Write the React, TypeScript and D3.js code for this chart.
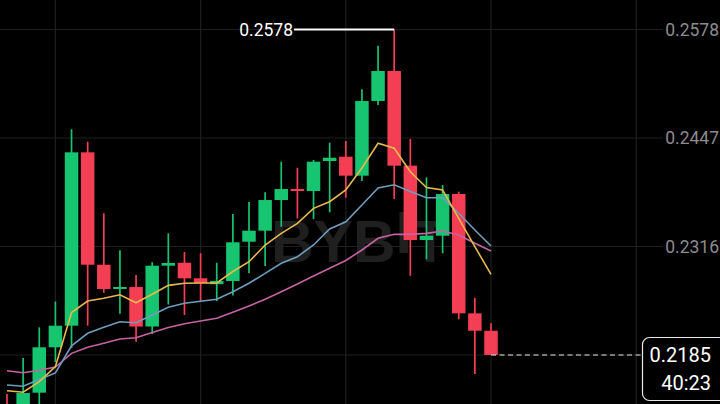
import React from "react";
import * as d3 from "d3";

const W = 720;
const H = 404;

// OHLC per candle (index 0..30)
const opens = [0.2121, 0.21125, 0.21395, 0.21943, 0.22204, 0.24297, 0.2294, 0.22647, 0.22671, 0.22194, 0.22928, 0.22964, 0.22776, 0.22705, 0.22743, 0.23218, 0.23351, 0.23721, 0.23854, 0.2383, 0.24192, 0.24244, 0.24015, 0.24917, 0.25279, 0.24136, 0.23238, 0.2329, 0.23794, 0.22353, 0.22143];
const highs = [0.21379, 0.21814, 0.22184, 0.22496, 0.24575, 0.24425, 0.23561, 0.23114, 0.22816, 0.2297, 0.23319, 0.23094, 0.23079, 0.22963, 0.23552, 0.23697, 0.23814, 0.24184, 0.24111, 0.24204, 0.24413, 0.24434, 0.25058, 0.25584, 0.2578, 0.24458, 0.23995, 0.23903, 0.23822, 0.22542, 0.22233];
const lows = [0.2092, 0.21065, 0.21234, 0.21765, 0.21934, 0.22204, 0.22601, 0.22349, 0.2201, 0.22103, 0.2246, 0.22333, 0.22498, 0.22502, 0.22568, 0.22836, 0.22925, 0.23399, 0.235, 0.23491, 0.23573, 0.23749, 0.23951, 0.24868, 0.23733, 0.22806, 0.23005, 0.23078, 0.22281, 0.21621, 0.2185];
const closes = [0.21005, 0.21391, 0.21943, 0.22204, 0.24297, 0.2294, 0.22647, 0.22671, 0.22194, 0.22928, 0.22961, 0.22776, 0.22719, 0.22743, 0.23211, 0.23351, 0.23721, 0.23854, 0.2383, 0.24184, 0.24232, 0.24015, 0.24917, 0.25279, 0.24136, 0.23238, 0.2329, 0.23794, 0.22353, 0.22143, 0.2185];

// Moving averages
const maFast = [0.21419, 0.214, 0.21528, 0.21709, 0.22363, 0.22502, 0.22536, 0.22577, 0.22481, 0.22583, 0.22691, 0.22716, 0.22719, 0.22719, 0.22858, 0.22976, 0.23178, 0.23319, 0.2344, 0.23621, 0.23701, 0.23842, 0.24108, 0.24406, 0.24346, 0.24063, 0.23872, 0.23842, 0.235, 0.23158, 0.22824];
const maMid = [0.21488, 0.21472, 0.21554, 0.21633, 0.21961, 0.22112, 0.22184, 0.22252, 0.2224, 0.22333, 0.22426, 0.22474, 0.22498, 0.22522, 0.22614, 0.22716, 0.22836, 0.22957, 0.23037, 0.23178, 0.23371, 0.23459, 0.23661, 0.23866, 0.23906, 0.23824, 0.23749, 0.23749, 0.23561, 0.23359, 0.23166];
const maSlow = [0.2166, 0.21636, 0.21665, 0.21705, 0.2187, 0.21943, 0.21991, 0.22043, 0.22059, 0.22122, 0.22182, 0.22227, 0.2226, 0.22293, 0.22367, 0.22442, 0.22522, 0.22614, 0.22707, 0.22804, 0.22897, 0.22991, 0.23118, 0.23259, 0.23307, 0.23307, 0.23319, 0.23347, 0.23299, 0.23199, 0.23106];

const priceTicks = [0.2578, 0.2447, 0.2316];
const gridPrices = [0.2578, 0.2447, 0.2316, 0.2185];
const gridIndices = [3, 12, 21, 30, 39];
const highLabel = "0.2578";
const highValue = 0.2578;
const highIndex = 24;
const lastPrice = 0.2185;
const lastPriceLabel = "0.2185";
const countdown = "40:23";

const GREEN = "#17c46f";
const RED = "#f43e53";

export default function App() {
  const x = d3.scaleLinear().domain([0, 30]).range([7, 491]);
  const y = d3.scaleLinear().domain([0.2185, 0.2578]).range([355, 29.5]);
  const bodyW = 13.5;

  const line = (vals: number[]) =>
    d3
      .line<number>()
      .x((_, i) => x(i))
      .y((v) => y(v))(vals) as string;

  const lastX = x(opens.length - 1);

  return (
    <svg
      width={W}
      height={H}
      style={{ position: "fixed", left: 0, top: 0, background: "#000", display: "block" }}
      fontFamily="Roboto, 'Noto Sans', sans-serif"
    >
      <rect x={0} y={0} width={W} height={H} fill="#000" />
      {/* grid */}
      {gridPrices.map((p) => (
        <line key={"h" + p} x1={0} x2={663} y1={y(p)} y2={y(p)} stroke="#1e1e1e" strokeWidth={1.2} />
      ))}
      {gridIndices.map((g) => (
        <line key={"v" + g} x1={x(g)} x2={x(g)} y1={0} y2={H} stroke="#1e1e1e" strokeWidth={1.2} />
      ))}
      {/* watermark */}
      <text x={271} y={262} fontSize={59} fontWeight={700} fill="#1f1f1f" fontFamily="'Liberation Sans', Arial, sans-serif">
        <tspan>BYB</tspan>
        <tspan dy={-9}>I</tspan>
        <tspan dy={9}>T</tspan>
      </text>
      {/* candles */}
      {opens.map((o, i) => {
        const c = closes[i];
        const up = c >= o;
        const col = up ? GREEN : RED;
        const top = y(Math.max(o, c));
        const bot = y(Math.min(o, c));
        return (
          <g key={i}>
            <line x1={x(i)} x2={x(i)} y1={y(highs[i])} y2={y(lows[i])} stroke={col} strokeWidth={1.7} />
            <rect x={x(i) - bodyW / 2} y={top} width={bodyW} height={Math.max(bot - top, 1.5)} fill={col} />
          </g>
        );
      })}
      {/* moving averages */}
      <path d={line(maSlow)} fill="none" stroke="#c563a3" strokeWidth={1.6} />
      <path d={line(maMid)} fill="none" stroke="#6f9dbd" strokeWidth={1.6} />
      <path d={line(maFast)} fill="none" stroke="#e9b94f" strokeWidth={1.6} />
      {/* high marker */}
      <line x1={294} x2={x(highIndex)} y1={y(highValue)} y2={y(highValue)} stroke="#fff" strokeWidth={1.8} />
      <text x={293} y={y(highValue) + 6} fontSize={17.5} fill="#fff" textAnchor="end">
        {highLabel}
      </text>
      {/* axis labels */}
      {priceTicks.map((p) => (
        <text key={"t" + p} x={719} y={y(p) + 6} fontSize={17.5} fill="#8c8c8c" textAnchor="end">
          {p.toFixed(4)}
        </text>
      ))}
      {/* last price line */}
      <line x1={lastX} x2={642} y1={y(lastPrice)} y2={y(lastPrice)} stroke="#e6e6e6" strokeWidth={1.2} strokeDasharray="5 3.5" />
      <rect x={642.5} y={337.5} width={90} height={63} rx={7} ry={7} fill="#000" stroke="#e8e8e8" strokeWidth={1.2} />
      <text x={711} y={362} fontSize={20} fill="#fff" textAnchor="end">
        {lastPriceLabel}
      </text>
      <text x={711} y={390} fontSize={20} fill="#fff" textAnchor="end">
        {countdown}
      </text>
    </svg>
  );
}
